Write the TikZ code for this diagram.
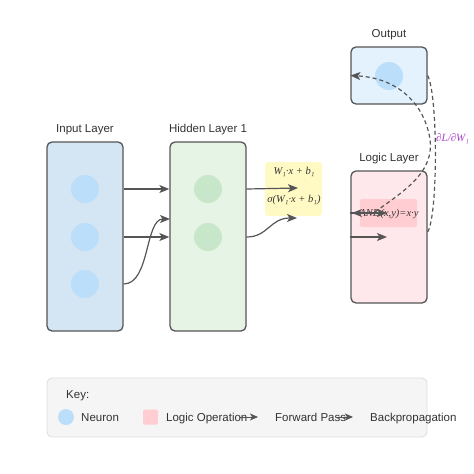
\documentclass[tikz,border=0pt]{standalone}
\usepackage{fontspec}
\setmainfont{Liberation Sans}
\newfontfamily\serifit{Liberation Serif}
\usetikzlibrary{arrows.meta}
\definecolor{boxgray}{HTML}{555555}
\definecolor{txt}{HTML}{333333}
\definecolor{inblue}{HTML}{D4E6F3}
\definecolor{neublue}{HTML}{BBDEFB}
\definecolor{hidgreen}{HTML}{E6F4E6}
\definecolor{neugreen}{HTML}{C8E6C9}
\definecolor{logpink}{HTML}{FFE8EB}
\definecolor{oppink}{HTML}{FFCDD2}
\definecolor{outblue}{HTML}{E3F2FD}
\definecolor{formyellow}{HTML}{FFF9C4}
\definecolor{keygray}{HTML}{F5F5F5}
\definecolor{keyedge}{HTML}{DDDDDD}
\definecolor{gradpurple}{HTML}{AA44CC}
\begin{document}
\begin{tikzpicture}[x=1pt,y=-1pt,
  layerbox/.style={draw=boxgray, line width=1.3pt, rounded corners=5pt, minimum width=76pt, inner sep=0pt},
  neuron/.style={circle, minimum size=28pt, inner sep=0pt},
  lbl/.style={font=\fontsize{11.5}{13}\selectfont, text=txt, inner sep=0pt},
  formula/.style={font=\fontsize{10.5}{12}\selectfont\serifit\itshape, text=txt, inner sep=0pt},
  fwd/.style={draw=boxgray, line width=1.2pt, -{Stealth[length=10pt,width=8pt,inset=2.5pt]}},
  back/.style={draw=boxgray, line width=1.2pt, dash pattern=on 4pt off 3pt},
]
\useasboundingbox (0,0) rectangle (474,474);
% layer boxes
\node[layerbox, fill=inblue, minimum height=189pt] (inbox) at (85,236.5) {};
\node[layerbox, fill=hidgreen, minimum height=189pt] (hidbox) at (208,236.5) {};
\node[layerbox, fill=logpink, minimum height=132pt] (logbox) at (389,237) {};
\node[layerbox, fill=outblue, minimum height=57pt] (outbox) at (389,75.5) {};
% labels
\node[lbl, anchor=base] (inlbl) at (85,132.5) {Input Layer};
\node[lbl, anchor=base] (hidlbl) at (208,132.5) {Hidden Layer 1};
\node[lbl, anchor=base] (loglbl) at (389,161.5) {Logic Layer};
\node[lbl, anchor=base] (outlbl) at (389,37.5) {Output};
% neurons
\node[neuron, fill=neublue] (in1) at (85,189) {};
\node[neuron, fill=neublue] (in2) at (85,237) {};
\node[neuron, fill=neublue] (in3) at (85,284) {};
\node[neuron, fill=neugreen] (hid1) at (208,189) {};
\node[neuron, fill=neugreen] (hid2) at (208,237) {};
\node[neuron, fill=neublue] (out1) at (389,76) {};
% formula box
\node[fill=formyellow, rounded corners=3pt, minimum width=57pt, minimum height=54pt, inner sep=0pt] (formbox) at (293.5,189) {};
\node[formula] (f1txt) at (294,172) {W₁·x + b₁};
\node[formula] (f2txt) at (294,200) {σ(W₁·x + b₁)};
% logic op
\node[fill=oppink, rounded corners=2pt, minimum width=57pt, minimum height=28pt, inner sep=0pt] (opbox) at (388.5,213) {};
\node[formula] (optxt) at (389,214) {AND(x,y)=x·y};
% connectors input -> hidden
\draw[fwd] (in1 -| inbox.east) -- (in1 -| hidbox.west);
\draw[fwd] (in2 -| inbox.east) -- (in2 -| hidbox.west);
\coordinate (h3) at (170,219);
\draw[fwd] (in3 -| inbox.east) .. controls (150,284) and (145,219) .. (h3);
% hidden -> formula
\coordinate (fa) at (298,188);
\coordinate (fb) at (297,218);
\draw[fwd] (hid1 -| hidbox.east) -- (fa);
\draw[fwd] (hid2 -| hidbox.east) .. controls (268,237) and (270,218) .. (fb);
% into logic layer
\coordinate (la) at (387,213);
\coordinate (lb) at (387,237);
\draw[fwd] (logbox.west |- la) -- (la);
\draw[fwd] (logbox.west |- lb) -- (lb);
% backpropagation
\coordinate (bpend) at (352,213);
\draw[back, -{Stealth[length=10pt,width=8pt,inset=2.5pt]}] (375,212) .. controls (405,190) and (440,170) .. (428,130)
   .. controls (420,100) and (395,78) .. (outbox.west);
\draw[back] (bpend) ++(2,0) -- (375,212);
\fill[boxgray] (bpend) -- ++(10,-4) -- ++(-2.5,4) -- ++(2.5,4) -- cycle;
\draw[back] (outbox.east) .. controls (438,95) and (438,215) .. (logbox.east |- 0,232);
\node[font=\fontsize{11}{12}\selectfont\serifit\itshape, text=gradpurple, anchor=west, inner sep=0pt] (grad) at (436,139) {∂L/∂W₁};
% key
\node[draw=keyedge, fill=keygray, rounded corners=5pt, minimum width=380pt, minimum height=59pt, inner sep=0pt, line width=0.8pt] (keybox) at (237,407.5) {};
\node[lbl, anchor=base west] (keylbl) at (66,398) {Key:};
\node[neuron, fill=neublue, minimum size=16pt] (kneu) at (66,417) {};
\node[lbl, anchor=base west] (kneut) at (81,421) {Neuron};
\node[fill=oppink, rounded corners=1.5pt, minimum size=15pt, inner sep=0pt] (kop) at (150.5,417) {};
\node[lbl, anchor=base west] (kopt) at (166,421) {Logic Operation};
\coordinate (ka1) at (240,417); \coordinate (ka2) at (258,417);
\draw[fwd, line width=1pt, -{Stealth[length=8pt,width=7pt,inset=2pt]}] (ka1) -- (ka2);
\node[lbl, anchor=base west] (kfwd) at (275,421) {Forward Pass};
\coordinate (kb1) at (336,417); \coordinate (kb2) at (353,417);
\draw[fwd, line width=1pt, -{Stealth[length=8pt,width=7pt,inset=2pt]}] (kb1) -- (kb2);
\node[lbl, anchor=base west] (kback) at (370,421) {Backpropagation};
\end{tikzpicture}
\end{document}
